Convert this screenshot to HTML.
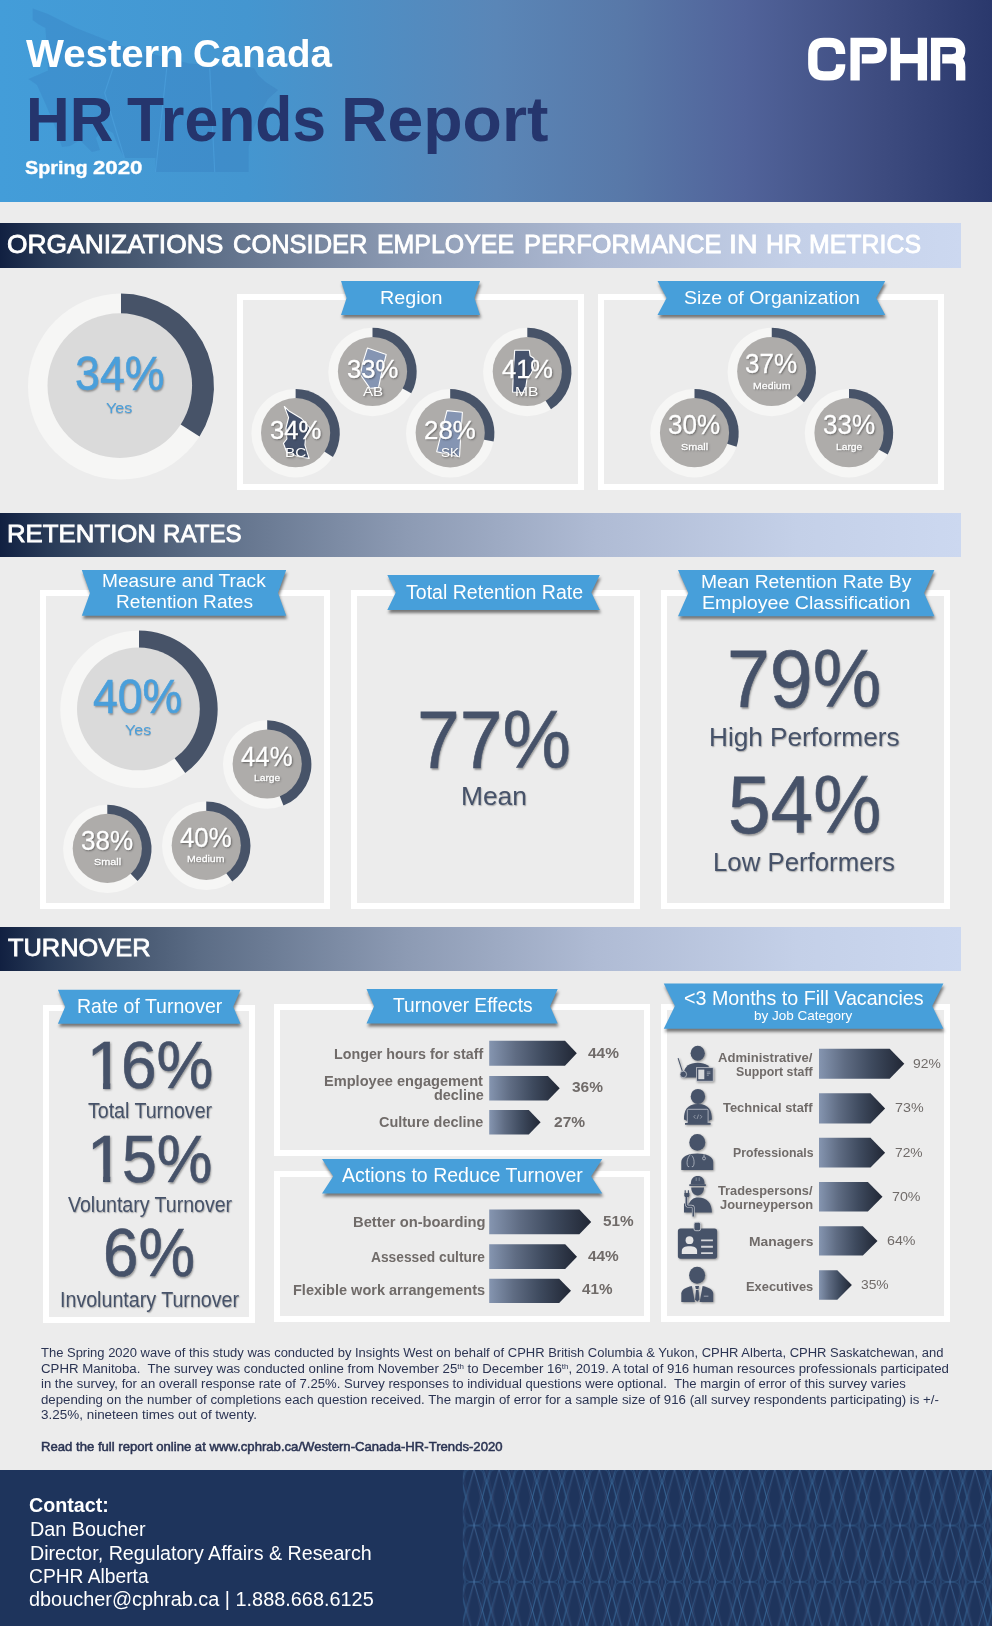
<!DOCTYPE html>
<html><head><meta charset="utf-8"><title>Western Canada HR Trends Report</title>
<style>
html,body{margin:0;padding:0}
body{width:992px;height:1626px;position:relative;overflow:hidden;background:#ececec;font-family:"Liberation Sans",sans-serif}
.t{position:absolute;white-space:nowrap;line-height:1;transform-origin:0 0;display:block}
.abs{position:absolute}
.panel{position:absolute;box-sizing:border-box;border:6px solid #fff}
.band{position:absolute;left:0;width:961px;background:linear-gradient(90deg,#112041 0,#283a57 5%,#3f5069 11%,#5c6d86 21%,#8c9ab3 42%,#afbbd4 62%,#c4d0e8 83%,#ccd8f0 100%)}
.bar{position:absolute;background:linear-gradient(90deg,#8493af 0,#5a6680 40%,#262d3d 100%)}
svg{position:absolute;overflow:visible}
</style></head><body>

<div class="abs" style="left:0;top:0;width:992px;height:202px;background:linear-gradient(90deg,#439dd9 0,#4496d0 25%,#5a86b7 50%,#5878a8 63%,#51639a 75%,#3f4d81 88%,#2a386c 100%)"></div>
<svg style="left:0;top:0" width="330" height="201" viewBox="0 0 330 201">
<path d="M32.7 8.5 L48 14 L76 28 L119 45 L189 63.5 L254 68 L258 75 L265.5 82 L278 90 L268 99 L260 113 L253 130 L248.6 147 L248.6 172 L155.5 172 L155.5 158 L124.4 158 L118 146 L113 133 L104 128 L96 138 L100 150 L92 152 L80 140 L70 146 L62 147 L54 124 L46 105 L37 85 L28.5 79 L40 74 L48 70.5 L47 50 L45.4 28 L38 24 L32.7 20 Z" fill="#2a62ad" fill-opacity=".18"/>
<path d="M113 68 L104.7 93 L124.4 158 M166.8 67.7 L155.5 172 M209.7 68 L214.7 172" stroke="#4ea4e0" stroke-opacity=".55" stroke-width="1.2" fill="none"/>
</svg>
<span class="t" style="left:25.60px;top:33.75px;font-size:39.28px;color:#fff;transform:scaleX(1.0231);font-weight:bold;">Western</span>
<span class="t" style="left:192.76px;top:33.75px;font-size:39.28px;color:#fff;transform:scaleX(0.9800);font-weight:bold;">Canada</span>
<span class="t" style="left:25.66px;top:88.16px;font-size:62.90px;color:#25356d;transform:scaleX(0.9622);font-weight:bold;">HR</span>
<span class="t" style="left:127.39px;top:88.16px;font-size:62.90px;color:#25356d;transform:scaleX(0.9657);font-weight:bold;">Trends</span>
<span class="t" style="left:340.79px;top:88.16px;font-size:62.90px;color:#25356d;transform:scaleX(1.0233);font-weight:bold;">Report</span>
<span class="t" style="left:25.01px;top:157.71px;font-size:19.13px;color:#fff;transform:scaleX(1.0335);font-weight:bold;-webkit-text-stroke:.35px #fff;">Spring</span>
<span class="t" style="left:92.83px;top:157.71px;font-size:19.13px;color:#fff;transform:scaleX(1.1640);font-weight:bold;-webkit-text-stroke:.35px #fff;">2020</span>
<svg style="left:0;top:0" width="992" height="201" viewBox="0 0 992 201" role="img" aria-label="CPHR">
<g fill="none" stroke="#fff" stroke-width="9.3">
<path d="M840.7 54 C840.7 45 836 42.4 829.5 42.4 H824 C816 42.4 812.8 46 812.8 54 V64.2 C812.8 72.2 816 75.8 824 75.8 H829.5 C836 75.8 840.7 73.2 840.7 64.2"/>
<path d="M855.1 80.5 V37.8 M850.5 42.4 H873.2 Q882.2 42.4 882.2 50.6 Q882.2 58.8 873.2 58.8 H861.8"/>
<path d="M895.4 37.8 V80.5 M922.4 37.8 V80.5 M895.4 58.6 H922.4"/>
<path d="M935.6 80.5 V37.8 M931 42.4 H951.8 Q960.7 42.4 960.7 50.6 Q960.7 58.8 951.8 58.8 H942.2 M949 58.8 H952.5 Q960.7 58.8 960.7 67 V80.5"/>
</g></svg>
<div class="band" style="top:223px;height:44.5px"></div>
<span class="t" style="left:7.38px;top:231.60px;font-size:24.93px;color:#fff;transform:scaleX(1.0581);-webkit-text-stroke:.8px #fff;">ORGANIZATIONS</span>
<span class="t" style="left:232.93px;top:231.60px;font-size:24.93px;color:#fff;transform:scaleX(1.0223);-webkit-text-stroke:.8px #fff;">CONSIDER</span>
<span class="t" style="left:376.61px;top:231.60px;font-size:24.93px;color:#fff;transform:scaleX(0.9996);-webkit-text-stroke:.8px #fff;">EMPLOYEE</span>
<span class="t" style="left:523.77px;top:231.60px;font-size:24.93px;color:#fff;transform:scaleX(1.0186);-webkit-text-stroke:.8px #fff;">PERFORMANCE</span>
<span class="t" style="left:729.33px;top:231.60px;font-size:24.93px;color:#fff;transform:scaleX(1.1455);-webkit-text-stroke:.8px #fff;">IN</span>
<span class="t" style="left:765.92px;top:231.60px;font-size:24.93px;color:#fff;transform:scaleX(0.9953);-webkit-text-stroke:.8px #fff;">HR</span>
<span class="t" style="left:809.31px;top:231.60px;font-size:24.93px;color:#fff;transform:scaleX(0.9988);-webkit-text-stroke:.8px #fff;">METRICS</span>
<div class="band" style="top:513px;height:44px"></div>
<span class="t" style="left:7.09px;top:521.69px;font-size:24.35px;color:#fff;transform:scaleX(1.0593);-webkit-text-stroke:.8px #fff;">RETENTION</span>
<span class="t" style="left:163.47px;top:521.69px;font-size:24.35px;color:#fff;transform:scaleX(0.9907);-webkit-text-stroke:.8px #fff;">RATES</span>
<div class="band" style="top:927px;height:44px"></div>
<span class="t" style="left:7.79px;top:935.67px;font-size:24.49px;color:#fff;transform:scaleX(1.0369);-webkit-text-stroke:.8px #fff;">TURNOVER</span>
<svg style="left:27px;top:292px" width="189" height="189" viewBox="-94.00 -94.60 189 189"><circle r="93" fill="#f6f6f5"/><path d="M0 0 L0 -93 A93 93 0 0 1 78.52 49.83 Z" fill="#475368"/><circle cx="-1.2" cy="-1" r="72.3" fill="#dadada"/></svg>
<span class="t" style="left:74.61px;top:349.30px;font-size:48.55px;color:#4a9fdb;transform:scaleX(0.9215);text-shadow:1px 1.6px 2px rgba(0,0,0,.34);-webkit-text-stroke:.6px #4a9fdb;">34%</span>
<span class="t" style="left:106.28px;top:399.72px;font-size:15.22px;color:#4a9fdb;transform:scaleX(1.0631);text-shadow:0 1px 1px rgba(0,0,0,.25);">Yes</span>
<div class="panel" style="left:237px;top:294px;width:347px;height:196px"></div>
<svg style="left:341px;top:281px;filter:drop-shadow(1.5px 3px 1.8px rgba(0,0,0,.5))" width="140" height="35"><polygon points="0.00,0.00 139.00,0.00 133.40,17.00 139.00,34.00 0.00,34.00 5.60,17.00" fill="#479fda"/></svg>
<span class="t" style="left:379.62px;top:288.03px;font-size:18.99px;color:#fff;transform:scaleX(1.0395);">Region</span>
<div class="panel" style="left:598px;top:294px;width:346px;height:196px"></div>
<svg style="left:657px;top:281px;filter:drop-shadow(1.5px 3px 1.8px rgba(0,0,0,.5))" width="230" height="35"><polygon points="0.50,0.00 228.25,0.00 219.15,17.00 228.25,34.00 0.50,34.00 9.60,17.00" fill="#479fda"/></svg>
<span class="t" style="left:683.62px;top:287.88px;font-size:19.28px;color:#fff;transform:scaleX(1.0143);">Size of Organization</span>
<svg style="left:327px;top:326px" width="92" height="92" viewBox="-45.50 -46.00 92 92"><circle r="44.2" fill="#f6f6f5"/><path d="M0 0 L0 -44.2 A44.2 44.2 0 0 1 38.73 21.29 Z" fill="#475368"/><circle cx="0" cy="-0.5" r="34.6" fill="#aeacaa"/></svg>
<svg style="left:372px;top:372px" width="1" height="1" viewBox="-0.50 0.00 1 1"><path d="M-5.1 -23.9 L13.7 -17.5 L9.5 -0.7 L6 15.6 L-2.5 16.4 L-12 2.7 L-10.2 -7.6 Z" fill="#8595b3" stroke="#fff" stroke-width="1.1" stroke-linejoin="round"/></svg>
<span class="t" style="left:346.77px;top:355.57px;font-size:26.38px;color:#fff;transform:scaleX(0.9754);text-shadow:1px 1px 2px rgba(0,0,0,.45);-webkit-text-stroke:.35px #fff;">33%</span>
<span class="t" style="left:362.75px;top:385.95px;font-size:12.46px;color:#fff;transform:scaleX(1.2128);text-shadow:1px 1px 2px rgba(0,0,0,.45);">AB</span>
<svg style="left:250px;top:388px" width="92" height="92" viewBox="-45.60 -45.20 92 92"><circle r="44.2" fill="#f6f6f5"/><path d="M0 0 L0 -44.2 A44.2 44.2 0 0 1 37.32 23.68 Z" fill="#475368"/><circle cx="0" cy="-0.5" r="34.6" fill="#aeacaa"/></svg>
<svg style="left:295px;top:433px" width="1" height="1" viewBox="-0.60 -0.20 1 1"><path d="M-11.3 -26.7 L-7 -22.5 L5.8 -14.7 L14.4 -5.3 L10.1 3.3 L9.3 11.8 L13.5 25.2 L4.1 23.8 L-8.7 19.5 L-12.2 10.1 L-8.7 5.8 L-9.6 -5.3 L-7 -15.6 Z" fill="#45526c" stroke="#fff" stroke-width="1.1" stroke-linejoin="round"/></svg>
<span class="t" style="left:269.87px;top:416.77px;font-size:26.38px;color:#fff;transform:scaleX(0.9754);text-shadow:1px 1px 2px rgba(0,0,0,.45);-webkit-text-stroke:.35px #fff;">34%</span>
<span class="t" style="left:284.62px;top:447.15px;font-size:12.46px;color:#fff;transform:scaleX(1.2319);text-shadow:1px 1px 2px rgba(0,0,0,.45);">BC</span>
<svg style="left:405px;top:388px" width="92" height="92" viewBox="-45.20 -45.30 92 92"><circle r="44.2" fill="#f6f6f5"/><path d="M0 0 L0 -44.2 A44.2 44.2 0 0 1 43.42 8.28 Z" fill="#475368"/><circle cx="0" cy="-0.5" r="34.6" fill="#aeacaa"/></svg>
<svg style="left:450px;top:433px" width="1" height="1" viewBox="-0.20 -0.30 1 1"><path d="M-3.2 -22.7 L12.2 -21 L10.5 3 L9.3 23.6 L-13.5 18.4 Z" fill="#8595b3" stroke="#fff" stroke-width="1.1" stroke-linejoin="round"/></svg>
<span class="t" style="left:424.21px;top:416.87px;font-size:26.38px;color:#fff;transform:scaleX(0.9806);text-shadow:1px 1px 2px rgba(0,0,0,.45);-webkit-text-stroke:.35px #fff;">28%</span>
<span class="t" style="left:440.92px;top:447.25px;font-size:12.46px;color:#fff;transform:scaleX(1.0866);text-shadow:1px 1px 2px rgba(0,0,0,.45);">SK</span>
<svg style="left:482px;top:326px" width="92" height="92" viewBox="-45.30 -46.00 92 92"><circle r="44.2" fill="#f6f6f5"/><path d="M0 0 L0 -44.2 A44.2 44.2 0 0 1 23.68 37.32 Z" fill="#475368"/><circle cx="0" cy="-0.5" r="34.6" fill="#aeacaa"/></svg>
<svg style="left:527px;top:372px" width="1" height="1" viewBox="-0.30 0.00 1 1"><path d="M-12.6 -21.8 L2 -21.8 L2.8 -16.3 L6.6 -13.7 L7.4 -6.9 L3.7 1.7 L-0.3 6.9 L-2.3 20.6 L-14.7 20 L-14 0.9 Z" fill="#45526c" stroke="#fff" stroke-width="1.1" stroke-linejoin="round"/></svg>
<span class="t" style="left:502.09px;top:355.57px;font-size:26.38px;color:#fff;transform:scaleX(0.9654);text-shadow:1px 1px 2px rgba(0,0,0,.45);-webkit-text-stroke:.35px #fff;">41%</span>
<span class="t" style="left:515.35px;top:385.95px;font-size:12.46px;color:#fff;transform:scaleX(1.2533);text-shadow:1px 1px 2px rgba(0,0,0,.45);">MB</span>
<svg style="left:726px;top:326px" width="92" height="92" viewBox="-45.75 -46.00 92 92"><circle r="44.2" fill="#f6f6f5"/><path d="M0 0 L0 -44.2 A44.2 44.2 0 0 1 32.22 30.26 Z" fill="#475368"/><circle cx="0" cy="-0.5" r="34.6" fill="#aeacaa"/></svg>
<span class="t" style="left:745.41px;top:350.27px;font-size:27.68px;color:#fff;transform:scaleX(0.9427);text-shadow:1px 1px 2px rgba(0,0,0,.45);-webkit-text-stroke:.3px #fff;">37%</span>
<span class="t" style="left:752.91px;top:380.56px;font-size:9.86px;color:#fff;transform:scaleX(1.0712);text-shadow:1px 1px 2px rgba(0,0,0,.45);-webkit-text-stroke:.3px #fff;">Medium</span>
<svg style="left:649px;top:388px" width="92" height="92" viewBox="-45.50 -45.20 92 92"><circle r="44.2" fill="#f6f6f5"/><path d="M0 0 L0 -44.2 A44.2 44.2 0 0 1 42.04 13.66 Z" fill="#475368"/><circle cx="0" cy="-0.5" r="34.6" fill="#aeacaa"/></svg>
<span class="t" style="left:668.16px;top:411.47px;font-size:27.68px;color:#fff;transform:scaleX(0.9427);text-shadow:1px 1px 2px rgba(0,0,0,.45);-webkit-text-stroke:.3px #fff;">30%</span>
<span class="t" style="left:680.96px;top:441.76px;font-size:9.86px;color:#fff;transform:scaleX(1.1039);text-shadow:1px 1px 2px rgba(0,0,0,.45);-webkit-text-stroke:.3px #fff;">Small</span>
<svg style="left:803px;top:388px" width="92" height="92" viewBox="-46.00 -45.20 92 92"><circle r="44.2" fill="#f6f6f5"/><path d="M0 0 L0 -44.2 A44.2 44.2 0 0 1 38.73 21.29 Z" fill="#475368"/><circle cx="0" cy="-0.5" r="34.6" fill="#aeacaa"/></svg>
<span class="t" style="left:822.66px;top:411.47px;font-size:27.68px;color:#fff;transform:scaleX(0.9427);text-shadow:1px 1px 2px rgba(0,0,0,.45);-webkit-text-stroke:.3px #fff;">33%</span>
<span class="t" style="left:835.68px;top:441.76px;font-size:9.86px;color:#fff;transform:scaleX(1.0439);text-shadow:1px 1px 2px rgba(0,0,0,.45);-webkit-text-stroke:.3px #fff;">Large</span>
<div class="panel" style="left:40px;top:589.5px;width:289.5px;height:319.0px"></div>
<svg style="left:81px;top:570px;filter:drop-shadow(1.5px 3px 1.8px rgba(0,0,0,.5))" width="207" height="47"><polygon points="0.80,0.00 205.20,0.00 197.00,22.88 205.20,45.75 0.80,45.75 9.00,22.88" fill="#479fda"/></svg>
<span class="t" style="left:102.47px;top:572.42px;font-size:18.41px;color:#fff;transform:scaleX(1.0392);">Measure and Track</span>
<span class="t" style="left:116.47px;top:594.33px;font-size:17.68px;color:#fff;transform:scaleX(1.0814);">Retention Rates</span>
<svg style="left:59px;top:629px" width="161" height="161" viewBox="-80.00 -80.30 161 161"><circle r="78.7" fill="#f6f6f5"/><path d="M0 0 L0 -78.7 A78.7 78.7 0 0 1 46.26 63.67 Z" fill="#475368"/><circle cx="-0.6" cy="-0.4" r="61.4" fill="#dadada"/></svg>
<span class="t" style="left:93.41px;top:673.09px;font-size:47.97px;color:#4a9fdb;transform:scaleX(0.9284);text-shadow:1px 1.6px 2px rgba(0,0,0,.34);-webkit-text-stroke:.6px #4a9fdb;">40%</span>
<span class="t" style="left:125.38px;top:723.13px;font-size:14.49px;color:#4a9fdb;transform:scaleX(1.1119);text-shadow:0 1px 1px rgba(0,0,0,.25);">Yes</span>
<svg style="left:222px;top:719px" width="92" height="92" viewBox="-45.20 -45.50 92 92"><circle r="44.2" fill="#f6f6f5"/><path d="M0 0 L0 -44.2 A44.2 44.2 0 0 1 16.27 41.10 Z" fill="#475368"/><circle cx="0" cy="-0.5" r="34.6" fill="#aeacaa"/></svg>
<span class="t" style="left:241.38px;top:742.77px;font-size:27.68px;color:#fff;transform:scaleX(0.9329);text-shadow:1px 1px 2px rgba(0,0,0,.45);-webkit-text-stroke:.3px #fff;">44%</span>
<span class="t" style="left:253.88px;top:773.06px;font-size:9.86px;color:#fff;transform:scaleX(1.0439);text-shadow:1px 1px 2px rgba(0,0,0,.45);-webkit-text-stroke:.3px #fff;">Large</span>
<svg style="left:62px;top:803px" width="92" height="92" viewBox="-45.30 -45.90 92 92"><circle r="44.2" fill="#f6f6f5"/><path d="M0 0 L0 -44.2 A44.2 44.2 0 0 1 30.26 32.22 Z" fill="#475368"/><circle cx="0" cy="-0.5" r="34.6" fill="#aeacaa"/></svg>
<span class="t" style="left:80.96px;top:827.17px;font-size:27.68px;color:#fff;transform:scaleX(0.9427);text-shadow:1px 1px 2px rgba(0,0,0,.45);-webkit-text-stroke:.3px #fff;">38%</span>
<span class="t" style="left:93.76px;top:857.46px;font-size:9.86px;color:#fff;transform:scaleX(1.1039);text-shadow:1px 1px 2px rgba(0,0,0,.45);-webkit-text-stroke:.3px #fff;">Small</span>
<svg style="left:161px;top:800px" width="92" height="92" viewBox="-45.25 -45.80 92 92"><circle r="44.2" fill="#f6f6f5"/><path d="M0 0 L0 -44.2 A44.2 44.2 0 0 1 25.98 35.76 Z" fill="#475368"/><circle cx="0" cy="-0.5" r="34.6" fill="#aeacaa"/></svg>
<span class="t" style="left:180.43px;top:824.07px;font-size:27.68px;color:#fff;transform:scaleX(0.9329);text-shadow:1px 1px 2px rgba(0,0,0,.45);-webkit-text-stroke:.3px #fff;">40%</span>
<span class="t" style="left:187.41px;top:854.36px;font-size:9.86px;color:#fff;transform:scaleX(1.0712);text-shadow:1px 1px 2px rgba(0,0,0,.45);-webkit-text-stroke:.3px #fff;">Medium</span>
<div class="panel" style="left:351px;top:590px;width:289px;height:319px"></div>
<svg style="left:387px;top:575px;filter:drop-shadow(1.5px 3px 1.8px rgba(0,0,0,.5))" width="214" height="36"><polygon points="0.30,0.00 212.80,0.00 204.30,17.50 212.80,35.00 0.30,35.00 8.80,17.50" fill="#479fda"/></svg>
<span class="t" style="left:406.11px;top:581.57px;font-size:20.00px;color:#fff;transform:scaleX(0.9772);">Total Retention Rate</span>
<span class="t" style="left:416.95px;top:697.82px;font-size:82.32px;color:#465269;transform:scaleX(0.9349);text-shadow:1px 1.6px 2px rgba(0,0,0,.34);-webkit-text-stroke:.6px #465269;">77%</span>
<span class="t" style="left:461.19px;top:784.35px;font-size:25.22px;color:#465269;transform:scaleX(1.0451);text-shadow:.8px 1px 1.3px rgba(0,0,0,.3);">Mean</span>
<div class="panel" style="left:661px;top:590px;width:289px;height:319px"></div>
<svg style="left:678px;top:570px;filter:drop-shadow(1.5px 3px 1.8px rgba(0,0,0,.5))" width="258" height="48"><polygon points="0.00,0.00 256.40,0.00 246.10,23.12 256.40,46.25 0.00,46.25 10.30,23.12" fill="#479fda"/></svg>
<span class="t" style="left:700.65px;top:573.16px;font-size:18.12px;color:#fff;transform:scaleX(1.0662);">Mean Retention Rate By</span>
<span class="t" style="left:702.18px;top:594.16px;font-size:18.12px;color:#fff;transform:scaleX(1.0842);">Employee Classification</span>
<span class="t" style="left:726.95px;top:637.91px;font-size:81.74px;color:#465269;transform:scaleX(0.9429);text-shadow:1px 1.6px 2px rgba(0,0,0,.34);-webkit-text-stroke:.6px #465269;">79%</span>
<span class="t" style="left:708.51px;top:723.97px;font-size:26.38px;color:#465269;transform:scaleX(0.9923);text-shadow:.8px 1px 1.3px rgba(0,0,0,.3);">High Performers</span>
<span class="t" style="left:727.94px;top:763.86px;font-size:82.03px;color:#465269;transform:scaleX(0.9334);text-shadow:1px 1.6px 2px rgba(0,0,0,.34);-webkit-text-stroke:.6px #465269;">54%</span>
<span class="t" style="left:712.64px;top:850.46px;font-size:25.80px;color:#465269;transform:scaleX(0.9993);text-shadow:.8px 1px 1.3px rgba(0,0,0,.3);">Low Performers</span>
<div class="panel" style="left:43.3px;top:1005px;width:211.7px;height:318px"></div>
<svg style="left:57px;top:989px;filter:drop-shadow(1.5px 3px 1.8px rgba(0,0,0,.5))" width="185" height="36"><polygon points="0.90,0.80 183.50,0.80 176.20,17.75 183.50,34.70 0.90,34.70 8.20,17.75" fill="#479fda"/></svg>
<span class="t" style="left:76.64px;top:995.80px;font-size:20.43px;color:#fff;transform:scaleX(0.9548);">Rate of Turnover</span>
<span class="t" style="left:86.46px;top:1031.38px;font-size:68.07px;color:#465269;filter:drop-shadow(1px 1.6px 1.2px rgba(0,0,0,.34));"><span style="display:block;clip-path:polygon(-10% -10%,120% -10%,120% 0.66em,0.349em 0.66em,0.349em 0.852em,0.244em 0.852em,0.244em 0.66em,-10% 0.66em);-webkit-text-stroke:.6px #465269;">1</span></span>
<span class="t" style="left:121.01px;top:1032.41px;font-size:66.86px;color:#465269;transform:scaleX(0.9557);text-shadow:1px 1.6px 2px rgba(0,0,0,.34);-webkit-text-stroke:.6px #465269;">6%</span>
<span class="t" style="left:87.91px;top:1100.87px;font-size:21.30px;color:#465269;transform:scaleX(0.9194);text-shadow:.8px 1px 1.3px rgba(0,0,0,.3);">Total Turnover</span>
<span class="t" style="left:86.70px;top:1124.59px;font-size:67.35px;color:#465269;filter:drop-shadow(1px 1.6px 1.2px rgba(0,0,0,.34));"><span style="display:block;clip-path:polygon(-10% -10%,120% -10%,120% 0.66em,0.349em 0.66em,0.349em 0.852em,0.244em 0.852em,0.244em 0.66em,-10% 0.66em);-webkit-text-stroke:.6px #465269;">1</span></span>
<span class="t" style="left:122.10px;top:1124.80px;font-size:67.10px;color:#465269;transform:scaleX(0.9322);text-shadow:1px 1.6px 2px rgba(0,0,0,.34);-webkit-text-stroke:.6px #465269;">5%</span>
<span class="t" style="left:67.50px;top:1194.57px;font-size:21.30px;color:#465269;transform:scaleX(0.9180);text-shadow:.8px 1px 1.3px rgba(0,0,0,.3);">Voluntary Turnover</span>
<span class="t" style="left:103.02px;top:1219.29px;font-size:67.83px;color:#465269;transform:scaleX(0.9388);text-shadow:1px 1.6px 2px rgba(0,0,0,.34);-webkit-text-stroke:.6px #465269;">6%</span>
<span class="t" style="left:59.73px;top:1289.11px;font-size:21.67px;color:#465269;transform:scaleX(0.9067);text-shadow:.8px 1px 1.3px rgba(0,0,0,.3);">Involuntary Turnover</span>
<div class="panel" style="left:274px;top:1004px;width:376px;height:152px"></div>
<svg style="left:366px;top:989px;filter:drop-shadow(1.5px 3px 1.8px rgba(0,0,0,.5))" width="193" height="36"><polygon points="0.50,0.00 191.70,0.00 184.10,17.30 191.70,34.60 0.50,34.60 8.10,17.30" fill="#479fda"/></svg>
<span class="t" style="left:392.82px;top:995.62px;font-size:19.71px;color:#fff;transform:scaleX(0.9739);">Turnover Effects</span>
<span class="t" style="left:333.50px;top:1047.19px;font-size:14.78px;color:#706b69;transform:scaleX(0.9671);font-weight:bold;">Longer hours for staff</span>
<span class="t" style="left:323.98px;top:1073.59px;font-size:14.78px;color:#706b69;transform:scaleX(0.9881);font-weight:bold;">Employee engagement</span>
<span class="t" style="left:433.62px;top:1088.09px;font-size:14.78px;color:#706b69;transform:scaleX(0.9776);font-weight:bold;">decline</span>
<span class="t" style="left:378.92px;top:1114.99px;font-size:14.78px;color:#706b69;transform:scaleX(0.9783);font-weight:bold;">Culture decline</span>
<span class="t" style="left:588.05px;top:1046.39px;font-size:14.78px;color:#706b69;transform:scaleX(1.0458);font-weight:bold;">44%</span>
<span class="t" style="left:572.09px;top:1080.49px;font-size:14.78px;color:#706b69;transform:scaleX(1.0477);font-weight:bold;">36%</span>
<span class="t" style="left:554.03px;top:1114.69px;font-size:14.78px;color:#706b69;transform:scaleX(1.0531);font-weight:bold;">27%</span>
<div class="panel" style="left:274px;top:1171px;width:376px;height:151px"></div>
<svg style="left:322px;top:1159px;filter:drop-shadow(1.5px 3px 1.8px rgba(0,0,0,.5))" width="282" height="36"><polygon points="0.00,0.00 280.30,0.00 269.10,17.30 280.30,34.60 0.00,34.60 11.20,17.30" fill="#479fda"/></svg>
<span class="t" style="left:341.90px;top:1165.25px;font-size:20.14px;color:#fff;transform:scaleX(0.9699);">Actions to Reduce Turnover</span>
<span class="t" style="left:353.17px;top:1215.39px;font-size:14.78px;color:#706b69;transform:scaleX(0.9979);font-weight:bold;">Better on-boarding</span>
<span class="t" style="left:371.29px;top:1249.69px;font-size:14.78px;color:#706b69;transform:scaleX(0.9316);font-weight:bold;">Assessed culture</span>
<span class="t" style="left:293.18px;top:1283.39px;font-size:14.78px;color:#706b69;transform:scaleX(0.9833);font-weight:bold;">Flexible work arrangements</span>
<span class="t" style="left:602.54px;top:1214.39px;font-size:14.78px;color:#706b69;transform:scaleX(1.0391);font-weight:bold;">51%</span>
<span class="t" style="left:588.05px;top:1248.59px;font-size:14.78px;color:#706b69;transform:scaleX(1.0423);font-weight:bold;">44%</span>
<span class="t" style="left:582.35px;top:1282.19px;font-size:14.78px;color:#706b69;transform:scaleX(1.0320);font-weight:bold;">41%</span>
<div class="panel" style="left:661px;top:1004px;width:289.29999999999995px;height:318px"></div>
<svg style="left:663px;top:983px;filter:drop-shadow(1.5px 3px 1.8px rgba(0,0,0,.5))" width="282" height="47"><polygon points="0.75,0.40 280.40,0.40 269.20,23.07 280.40,45.75 0.75,45.75 11.95,23.07" fill="#479fda"/></svg>
<span class="t" style="left:684.32px;top:988.83px;font-size:19.93px;color:#fff;transform:scaleX(0.9870);">&lt;3 Months to Fill Vacancies</span>
<span class="t" style="left:754.19px;top:1008.94px;font-size:13.19px;color:#fff;transform:scaleX(1.0239);">by Job Category</span>
<span class="t" style="left:718.01px;top:1051.78px;font-size:12.90px;color:#706b69;transform:scaleX(1.0136);font-weight:bold;">Administrative/</span>
<span class="t" style="left:736.03px;top:1066.38px;font-size:12.90px;color:#706b69;transform:scaleX(0.9553);font-weight:bold;">Support staff</span>
<span class="t" style="left:723.27px;top:1102.48px;font-size:12.90px;color:#706b69;transform:scaleX(1.0016);font-weight:bold;">Technical staff</span>
<span class="t" style="left:732.74px;top:1147.48px;font-size:12.90px;color:#706b69;transform:scaleX(0.9520);font-weight:bold;">Professionals</span>
<span class="t" style="left:717.97px;top:1184.68px;font-size:12.90px;color:#706b69;transform:scaleX(0.9920);font-weight:bold;">Tradespersons/</span>
<span class="t" style="left:720.34px;top:1199.28px;font-size:12.90px;color:#706b69;transform:scaleX(1.0011);font-weight:bold;">Journeyperson</span>
<span class="t" style="left:748.73px;top:1236.38px;font-size:12.90px;color:#706b69;transform:scaleX(1.0728);font-weight:bold;">Managers</span>
<span class="t" style="left:746.00px;top:1280.53px;font-size:12.90px;color:#706b69;transform:scaleX(0.9979);font-weight:bold;">Executives</span>
<span class="t" style="left:912.71px;top:1057.68px;font-size:12.90px;color:#706b69;transform:scaleX(1.0757);">92%</span>
<span class="t" style="left:894.99px;top:1102.48px;font-size:12.90px;color:#706b69;transform:scaleX(1.1081);">73%</span>
<span class="t" style="left:894.71px;top:1146.58px;font-size:12.90px;color:#706b69;transform:scaleX(1.0716);">72%</span>
<span class="t" style="left:892.39px;top:1190.78px;font-size:12.90px;color:#706b69;transform:scaleX(1.1041);">70%</span>
<span class="t" style="left:887.39px;top:1234.78px;font-size:12.90px;color:#706b69;transform:scaleX(1.1041);">64%</span>
<span class="t" style="left:860.70px;top:1279.48px;font-size:12.90px;color:#706b69;transform:scaleX(1.0721);">35%</span>
<svg style="left:0;top:0" width="992" height="1626" viewBox="0 0 992 1626"><defs><linearGradient id="bg"><stop offset="0" stop-color="#8595b0"/><stop offset=".3" stop-color="#5f6c83"/><stop offset=".62" stop-color="#3e4a5e"/><stop offset="1" stop-color="#212735"/></linearGradient></defs><g fill="url(#bg)"><polygon points="489.2,1040.8 565.0,1040.8 576.8,1053.25 565.0,1065.7 489.2,1065.7"/><polygon points="489.2,1076 547.9,1076 559.7,1088.30 547.9,1100.6 489.2,1100.6"/><polygon points="489.2,1110 528.8,1110 540.6,1122.30 528.8,1134.6 489.2,1134.6"/><polygon points="489.2,1209.6 579.4,1209.6 591.2,1221.95 579.4,1234.3 489.2,1234.3"/><polygon points="489.2,1244.3 565.2,1244.3 577,1256.70 565.2,1269.1 489.2,1269.1"/><polygon points="489.2,1278.7 559.2,1278.7 571,1290.80 559.2,1302.9 489.2,1302.9"/><polygon points="819,1048.8 889.7,1048.8 904.3,1063.80 889.7,1078.8 819,1078.8"/><polygon points="819,1093.3 870.5,1093.3 885.1,1108.40 870.5,1123.5 819,1123.5"/><polygon points="819,1137.8 870.5,1137.8 885.1,1152.70 870.5,1167.6 819,1167.6"/><polygon points="819,1182.1 867.9,1182.1 882.5,1196.85 867.9,1211.6 819,1211.6"/><polygon points="819,1226.2 862.9,1226.2 877.5,1240.90 862.9,1255.6 819,1255.6"/><polygon points="819,1270.2 837.3,1270.2 851.9,1285.00 837.3,1299.8 819,1299.8"/></g></svg>
<svg style="left:0;top:0;filter:drop-shadow(1.6px 1.8px 1.3px rgba(0,0,0,.38))" width="992" height="1626" viewBox="0 0 992 1626">
<g fill="#475369">
<!-- 1 administrative -->
<ellipse cx="697.7" cy="1053.3" rx="7.1" ry="7.5"/>
<path d="M683.9 1077.4 V1074 C683.9 1066 690 1062.8 697.7 1062.8 C705.5 1062.8 711.5 1066 711.5 1074 V1077.4 Z"/>
<path d="M677.6 1058.2 L678.6 1057.9 L682.9 1071.3 L681.9 1071.6 Z"/>
<circle cx="683.3" cy="1074.4" r="3.3" stroke="#d4d6da" stroke-width=".7"/>
<rect x="696.5" y="1067.7" width="16.7" height="13.5" stroke="#d4d6da" stroke-width=".7"/>
<rect x="698.3" y="1069.6" width="6" height="9.6" fill="#d9dadc"/>
<path d="M706.8 1072 h3.6 M706.8 1073.6 h3.6 M706.8 1075.2 h2" stroke="#aeb3bd" stroke-width=".7" fill="none"/>
<!-- 2 technical -->
<ellipse cx="697.9" cy="1096.4" rx="7.2" ry="7.5"/>
<path d="M684 1119.5 C684 1111 686.5 1104.1 697.9 1104.1 C709.3 1104.1 711.9 1111 711.9 1119.5 L708.3 1121 V1123 H710.6 V1124.8 H685 V1123 H687.3 V1121 Z"/>
<path d="M687.3 1123 V1110.6 Q687.3 1109.3 688.6 1109.3 H706.8 Q708.1 1109.3 708.1 1110.6 V1123" fill="none" stroke="#c3c7cf" stroke-width=".8"/>
<path d="M695.4 1115 l-1.7 1.8 l1.7 1.8 M700.2 1115 l1.7 1.8 l-1.7 1.8 M698.6 1114.6 l-1.6 4.4" fill="none" stroke="#aab0bb" stroke-width=".7"/>
<!-- 3 professionals -->
<ellipse cx="697.3" cy="1142.4" rx="8" ry="8.4"/>
<path d="M681.3 1170 V1162 C681.3 1157 688 1153.6 697.3 1153.6 C706.5 1153.6 713.2 1157 713.2 1162 V1170 Z"/>
<path d="M690.5 1154.6 C686.5 1158 686.5 1164.5 688 1166.6 L689.2 1166.6 M691.8 1166.6 L693 1166.6 C694.6 1164.5 694.6 1158.5 691.8 1155.5" fill="none" stroke="#b9bec8" stroke-width=".8"/>
<circle cx="704" cy="1158.4" r="1.5" fill="none" stroke="#b9bec8" stroke-width=".8"/>
<path d="M704 1154.3 V1156.8" stroke="#b9bec8" stroke-width=".8"/>
<!-- 4 trades -->
<path d="M690.8 1184.2 C690.8 1178.5 693.8 1176 697.7 1176 C701.6 1176 704.6 1178.5 704.6 1184.2 Z"/>
<rect x="689.1" y="1184.3" width="16.9" height="1.8" rx=".8"/>
<path d="M691.2 1187.6 H704 C704 1192.6 701 1195.4 697.6 1195.4 C694.2 1195.4 691.2 1192.6 691.2 1187.6 Z"/>
<path d="M684 1212.6 V1203.5 H688.4 V1205.5 C690 1200 693.5 1197.5 698 1197.5 C707 1197.5 711.9 1203 711.9 1212.6 Z"/>
<path d="M696.2 1177.5 v3.5 M699.2 1177.5 v3.5" stroke="#9aa2b0" stroke-width=".7"/>
<path d="M685.2 1190.2 v3 M688.4 1190.2 v3" stroke="#475369" stroke-width="1.1"/>
<path d="M684.3 1193 H689.4 V1195.5 Q689.4 1197.6 686.9 1197.6 Q684.3 1197.6 684.3 1195.5 Z"/>
<path d="M686.4 1197 V1204.2 Q686.4 1206.2 688.6 1206.2 H691.4 Q693.3 1206.2 693.3 1208.2 V1216.5" fill="none" stroke="#c7cad1" stroke-width="2.8"/>
<path d="M686.4 1197 V1204.2 Q686.4 1206.2 688.6 1206.2 H691.4 Q693.3 1206.2 693.3 1208.2 V1216.5" fill="none" stroke="#475369" stroke-width="1.6"/>
<!-- 5 managers -->
<rect x="677.9" y="1228.5" width="39.2" height="30.2" rx="2.6"/>
<rect x="694" y="1222.3" width="6.6" height="8.4" rx="1.8" stroke="#d2d4d9" stroke-width=".8"/>
<circle cx="689.5" cy="1240.2" r="3.9" fill="#e4e4e5"/>
<path d="M681.8 1253.9 V1251 C681.8 1247.5 685 1246.2 689.5 1246.2 C694 1246.2 697.1 1247.5 697.1 1251 V1253.9 Z" fill="#e6e6e7"/>
<path d="M701.1 1240.4 H712.9 M701.1 1246.7 H712.9 M701.1 1253.1 H712.9" stroke="#d6d7da" stroke-width="1.9" fill="none"/>
<!-- 6 executives -->
<ellipse cx="697.1" cy="1275.2" rx="8" ry="8.5"/>
<path d="M681.3 1302.1 V1293.5 C681.3 1289.5 686 1287.3 691.8 1285.9 L694.9 1302.1 Z"/>
<path d="M713.2 1302.1 V1293.5 C713.2 1289.5 708.5 1287.3 702.6 1285.9 L699.6 1302.1 Z"/>
<path d="M695.1 1285.9 H699.1 L698.4 1288.9 H695.9 Z"/>
<path d="M695.9 1290 H698.5 L699.4 1299.2 L697.3 1301.8 L695.1 1299.2 Z"/>
<path d="M703.8 1296.2 h4.6" stroke="#9fa6b3" stroke-width="1" fill="none"/>
</g></svg>
<style>sup{font-size:60%;vertical-align:baseline;position:relative;top:-.45em;line-height:0}</style>
<span class="t" style="left:40.94px;top:1347.02px;font-size:12.50px;color:#2b3453;transform:scaleX(1.0388);">The Spring 2020 wave of this study was conducted by Insights West on behalf of CPHR British Columbia &amp; Yukon, CPHR Alberta, CPHR Saskatchewan, and</span>
<span class="t" style="left:41.04px;top:1362.60px;font-size:12.50px;color:#2b3453;transform:scaleX(1.0591);">CPHR Manitoba.&nbsp; The survey was conducted online from November 25<sup>th</sup> to December 16<sup>th</sup>, 2019. A total of 916 human resources professionals participated</span>
<span class="t" style="left:40.78px;top:1378.18px;font-size:12.50px;color:#2b3453;transform:scaleX(1.0491);">in the survey, for an overall response rate of 7.25%. Survey responses to individual questions were optional.&nbsp; The margin of error of this survey varies</span>
<span class="t" style="left:41.17px;top:1393.76px;font-size:12.50px;color:#2b3453;transform:scaleX(1.0600);">depending on the number of completions each question received. The margin of error for a sample size of 916 (all survey respondents participating) is +/-</span>
<span class="t" style="left:41.16px;top:1409.34px;font-size:12.50px;color:#2b3453;transform:scaleX(1.0769);">3.25%, nineteen times out of twenty.</span>
<span class="t" style="left:40.55px;top:1441.20px;font-size:12.40px;color:#2b3453;transform:scaleX(1.0587);-webkit-text-stroke:.5px #2b3453;">Read the full report online at www.cphrab.ca/Western-Canada-HR-Trends-2020</span>
<div class="abs" style="left:0;top:1470px;width:992px;height:156px;background:#1e345c"></div>
<svg style="left:462px;top:1470px" width="530" height="156" viewBox="462 1470 530 156">
<defs><pattern id="pt" x="461.625" y="1469.1" width="25.05" height="56.4" patternUnits="userSpaceOnUse">
<path d="M12.525 0 L28.625 56.4 M12.525 0 L-3.575000000000001 56.4 M12.525 56.4 L28.625 0 M12.525 56.4 L-3.575000000000001 0 M37.575 0 L21.475 56.4 M37.575 56.4 L21.475 0 M-12.525 0 L3.575000000000001 56.4 M-12.525 56.4 L3.575000000000001 0 " fill="none" stroke="#4683bb" stroke-opacity=".55" stroke-width=".75"/>
<path d="M7.925000000000001 .5 H17.125 Q20.525 .5 21.325000000000003 4 L24.125 14.1 L20.925 28.2 L24.125 42.3 L21.325000000000003 52.4 Q20.525 55.9 17.125 55.9 H7.925000000000001 Q4.525 55.9 3.7249999999999996 52.4 L0.9250000000000007 42.3 L4.125 28.2 L0.9250000000000007 14.1 L3.7249999999999996 4 Q4.525 .5 7.925000000000001 .5 Z" fill="none" stroke="#4683bb" stroke-opacity=".42" stroke-width=".75"/>
<path d="M12.525 0 L24.925 56.4 M12.525 0 L0.125 56.4 M12.525 56.4 L24.925 0 M12.525 56.4 L0.125 0 M37.575 0 L25.175000000000004 56.4 M37.575 56.4 L25.175000000000004 0 M-12.525 0 L-0.125 56.4 M-12.525 56.4 L-0.125 0 " fill="none" stroke="#6a6f9a" stroke-opacity=".22" stroke-width=".75"/>
</pattern></defs>
<rect x="462.8" y="1470" width="529.2" height="156" fill="url(#pt)"/></svg>
<span class="t" style="left:29.41px;top:1496.22px;font-size:19.71px;color:#fff;transform:scaleX(1.0005);font-weight:bold;">Contact:</span>
<span class="t" style="left:29.61px;top:1520.14px;font-size:19.57px;color:#fff;transform:scaleX(1.0133);">Dan Boucher</span>
<span class="t" style="left:29.63px;top:1543.64px;font-size:19.57px;color:#fff;transform:scaleX(1.0050);">Director, Regulatory Affairs &amp; Research</span>
<span class="t" style="left:29.24px;top:1566.64px;font-size:19.57px;color:#fff;transform:scaleX(0.9825);">CPHR Alberta</span>
<span class="t" style="left:29.40px;top:1589.64px;font-size:19.57px;color:#fff;transform:scaleX(1.0160);">dboucher@cphrab.ca | 1.888.668.6125</span>
</body></html>
